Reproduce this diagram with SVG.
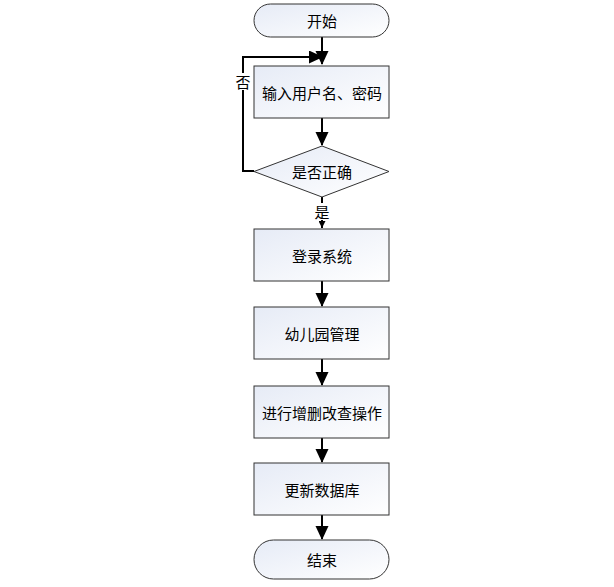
<svg xmlns="http://www.w3.org/2000/svg" width="614" height="587" viewBox="0 0 614 587">
<defs>
<linearGradient id="g" x1="0" y1="0" x2="1" y2="1">
<stop offset="0" stop-color="#e6ebf6"/>
<stop offset="1" stop-color="#ffffff"/>
</linearGradient>
<marker id="a" markerWidth="14" markerHeight="14" refX="13" refY="6.5" orient="auto" markerUnits="userSpaceOnUse">
<path d="M0,0 L14,6.5 L0,13 Z" fill="#000"/>
</marker>
<marker id="s" markerWidth="7" markerHeight="7" refX="7" refY="3.5" orient="auto" markerUnits="userSpaceOnUse">
<path d="M0,0 L7,3.5 L0,7 Z" fill="#000"/>
</marker>
</defs>
<style>
.n{fill:url(#g);stroke:#333;stroke-width:1}
.t{font-family:"Noto Sans CJK SC","Noto Sans",sans-serif;font-size:15px;fill:#000;text-anchor:middle;dominant-baseline:central}
.c{fill:none;stroke:#000;stroke-width:2}
</style>
<rect width="614" height="587" fill="#fff"/>
<g id="connectors">
<path class="c" d="M322,37 V64" marker-end="url(#a)"/>
<path class="c" d="M254,171 H243 V57 H322" marker-end="url(#a)"/>
<path class="c" d="M322,118 V145" marker-end="url(#a)"/>
<path class="c" d="M322,197 V228" marker-end="url(#s)" stroke-width="1.5"/>
<path class="c" d="M322,281 V306" marker-end="url(#a)"/>
<path class="c" d="M322,359 V385" marker-end="url(#a)"/>
<path class="c" d="M322,438 V462" marker-end="url(#a)"/>
<path class="c" d="M322,515 V539" marker-end="url(#a)"/>
<rect x="235" y="73" width="16" height="17" fill="#fff"/>
<text class="t" x="243" y="81.5">否</text>
<rect x="314" y="203" width="16" height="17" fill="#fff"/>
<text class="t" x="322" y="211.5">是</text>
</g>
<g id="start"><rect class="n" x="254" y="4" width="135" height="33" rx="16.5"/><text class="t" x="322" y="20.5">开始</text></g>
<g id="input"><rect class="n" x="254" y="66" width="135" height="52"/><text class="t" x="322" y="92">输入用户名、密码</text></g>
<g id="check"><path class="n" d="M322,146 L389,171.5 L322,197 L254,171.5 Z"/><text class="t" x="322" y="171">是否正确</text></g>
<g id="login"><rect class="n" x="254" y="229" width="135" height="52"/><text class="t" x="322" y="255">登录系统</text></g>
<g id="manage"><rect class="n" x="254" y="307" width="135" height="52"/><text class="t" x="322" y="333">幼儿园管理</text></g>
<g id="crud"><rect class="n" x="254" y="386" width="135" height="52"/><text class="t" x="322" y="412">进行增删改查操作</text></g>
<g id="update"><rect class="n" x="254" y="463" width="135" height="52"/><text class="t" x="322" y="489">更新数据库</text></g>
<g id="end"><rect class="n" x="254" y="540" width="135" height="39" rx="19.5"/><text class="t" x="322" y="559.5">结束</text></g>
</svg>
